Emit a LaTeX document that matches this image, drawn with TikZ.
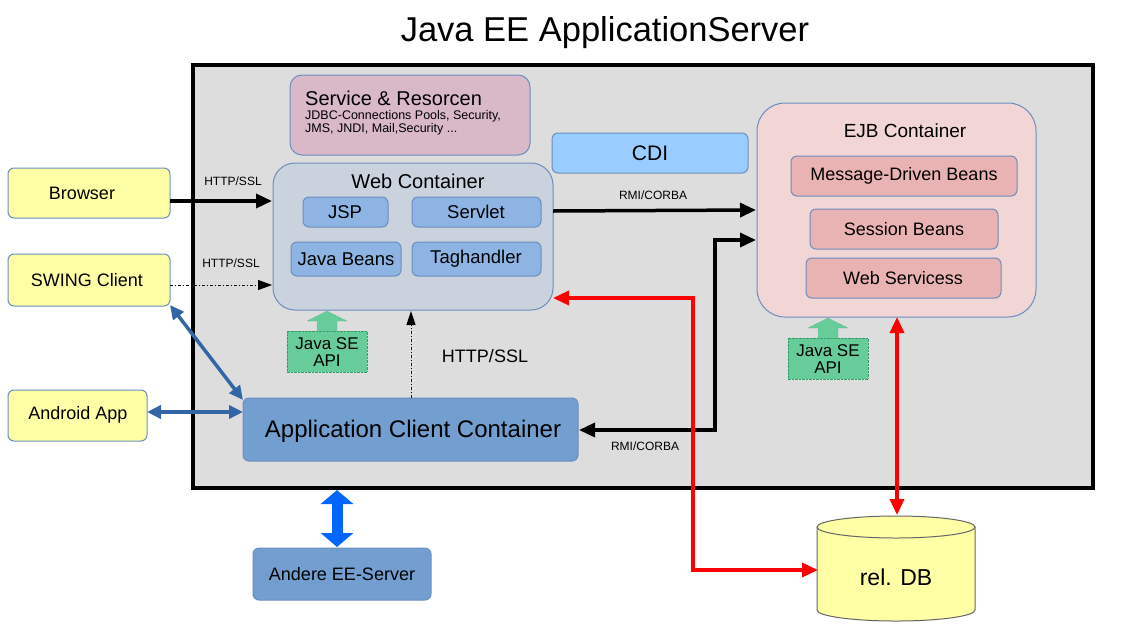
\documentclass[tikz,border=0pt]{standalone}
\usepackage{fontspec}
\setmainfont{Liberation Sans}
\usetikzlibrary{arrows.meta}
\definecolor{srv}{HTML}{DDDDDD}
\definecolor{pinkb}{HTML}{D9B8C8}
\definecolor{cdi}{HTML}{99CCFF}
\definecolor{webc}{HTML}{CAD3DD}
\definecolor{bord}{HTML}{6C8EBF}
\definecolor{inner}{HTML}{8EB4E3}
\definecolor{ejb}{HTML}{F2D5D5}
\definecolor{ejbin}{HTML}{EAB3B3}
\definecolor{yel}{HTML}{FFFFA6}
\definecolor{appc}{HTML}{729FCF}
\definecolor{grn}{HTML}{66CC99}
\definecolor{grnb}{HTML}{339966}
\definecolor{barrow}{HTML}{3465A4}
\definecolor{bigb}{HTML}{0066FF}
\begin{document}
\begin{tikzpicture}[x=1pt,y=-1pt,
  box/.style={draw=bord,rounded corners=6pt,line width=1pt},
  fs/.style={font=\fontsize{#1}{#1}\selectfont},
  blk/.style={line width=3.5pt,-{Triangle[length=16pt,width=14pt]}},
  lab/.style={fs=12},
  redA/.style={red,line width=3.5pt},
  blueA/.style={barrow,line width=3.5pt,{Triangle[length=14pt,width=13pt]}-{Triangle[length=14pt,width=13pt]}}]
\useasboundingbox (0,0) rectangle (1123,635);
\fill[white] (0,0) rectangle (1123,635);
\node[fs=34.5] (title) at (605,33) {Java EE ApplicationServer};
\draw[fill=srv,line width=3.5pt] (193,65) rectangle (1093,488);
% service
\draw[box,fill=pinkb,rounded corners=12pt] (290,75) rectangle (530,155);
\node[fs=20,anchor=west,inner sep=0pt] (svc) at (305,98) {Service \& Resorcen};
\node[fs=12.5,anchor=north west,align=left,inner sep=0pt] (svct) at (305,110) {JDBC-Connections Pools, Security,\\[1pt]JMS, JNDI, Mail,Security ...};
\draw[box,fill=cdi] (552,133) rectangle (748,173);
\node[fs=21] (cdi) at (650,153) {CDI};
% web
\draw[box,fill=webc,rounded corners=22pt] (273,163) rectangle (553,310);
\node[fs=20] (webt) at (418,181) {Web Container};
\draw[box,fill=inner] (303,197) rectangle (388,227); \node[fs=18.5] (jsp) at (345,212) {JSP};
\draw[box,fill=inner] (412,197) rectangle (541,227); \node[fs=18.5] (servlet) at (476,212) {Servlet};
\draw[box,fill=inner] (291,242) rectangle (401,276); \node[fs=18.5] (jb) at (346,259) {Java Beans};
\draw[box,fill=inner] (412,242) rectangle (541,276); \node[fs=18.5] (tag) at (476,259) {Taghandler};
% ejb
\draw[box,fill=ejb,rounded corners=28pt] (757,103) rectangle (1036,317);
\node[fs=19] (ejbt) at (905,131) {EJB Container};
\draw[box,fill=ejbin] (791,156) rectangle (1017,196); \node[fs=18] (mdb) at (904,176) {Message-Driven Beans};
\draw[box,fill=ejbin] (810,209) rectangle (998,249); \node[fs=18] (sb) at (904,229) {Session Beans};
\draw[box,fill=ejbin] (806,258) rectangle (1001,298); \node[fs=18] (ws) at (903,278) {Web Servicess};
% java se api
\foreach \cx/\ty/\nm in {327/311/jse1,828/318/jse2}{
 \draw[grnb,densely dotted,fill=grn] (\cx-40,\ty+20) rectangle (\cx+40,\ty+61);
 \draw[grnb,densely dotted,fill=grn] (\cx-10,\ty+20) -- (\cx-10,\ty+10) -- (\cx-20,\ty+10) -- (\cx,\ty) -- (\cx+20,\ty+10) -- (\cx+10,\ty+10) -- (\cx+10,\ty+20);
 \node[fs=17,align=center,inner sep=0pt] (\nm) at (\cx,\ty+41) {Java SE\\API};
}
% clients
\draw[box,fill=yel] (8,168) rectangle (170,218); \node[fs=18] (browser) at (82,193) {Browser};
\draw[box,fill=yel] (8,254) rectangle (170,306); \node[fs=18] (swing) at (87,280) {SWING Client};
\draw[box,fill=yel] (8,390) rectangle (147,441); \node[fs=18] (android) at (78,415) {Android App};
\draw[box,fill=appc] (243,398) rectangle (578,461); \node[fs=24] (app) at (413,431) {Application Client Container};
\draw[box,fill=appc] (253,548) rectangle (431,600); \node[fs=18] (andere) at (342,574) {Andere EE-Server};
% DB
\draw[black!60,fill=yel,line width=1pt] (817,527) -- (817,610) arc[start angle=180,end angle=0,x radius=79,y radius=11] -- (975,527) arc[start angle=0,end angle=-180,x radius=79,y radius=11] -- cycle;
\draw[black!60,line width=1pt] (817,527) arc[start angle=180,end angle=0,x radius=79,y radius=11];
\node[fs=23] (db) at (896,577) {rel. DB};
% arrows
\coordinate (b1) at (170,201); \coordinate (w1) at (272,201);
\draw[blk] (b1) -- (w1);
\node[lab] (l1) at (233,181) {HTTP/SSL};
\coordinate (s1) at (170,285); \coordinate (w2) at (272,285);
\draw[line width=1pt,dash dot,-{Triangle[length=14pt,width=10pt]}] (s1) -- (w2);
\node[lab] (l2) at (231,263) {HTTP/SSL};
\coordinate (w3) at (553,211); \coordinate (e1) at (756,210);
\draw[blk] (w3) -- (e1);
\node[lab] (l3) at (653,195) {RMI/CORBA};
\coordinate (a1) at (579,430); \coordinate (e2) at (756,240);
\draw[line width=3.5pt,{Triangle[length=16pt,width=14pt]}-{Triangle[length=16pt,width=14pt]},line join=miter] (a1) -- (715,430) -- (715,240) -- (e2);
\node[lab] (l4) at (645,446) {RMI/CORBA};
\coordinate (a2) at (411,398); \coordinate (w4) at (411,311);
\draw[line width=1pt,dash dot,-{Triangle[length=14pt,width=9pt]}] (a2) -- (w4);
\node[fs=18] (l5) at (485,356) {HTTP/SSL};
\coordinate (w5) at (553,298); \coordinate (d1) at (818,570);
\draw[redA,{Triangle[length=16pt,width=14pt]}-{Triangle[length=16pt,width=14pt]}] (w5) -- (693,298) -- (693,570) -- (d1);
\coordinate (e3) at (897,317); \coordinate (d2) at (897,515);
\draw[redA,{Triangle[length=16pt,width=14pt]}-{Triangle[length=16pt,width=14pt]}] (e3) -- (d2);
\coordinate (s2) at (170,305); \coordinate (a3) at (243,400);
\draw[blueA] (s2) -- (a3);
\coordinate (an1) at (147,412); \coordinate (a4) at (243,412);
\draw[blueA] (an1) -- (a4);
\coordinate (v1) at (337,490); \coordinate (v2) at (337,547);
\draw[bigb,line width=11pt,{Triangle[length=14pt,width=32pt]}-{Triangle[length=14pt,width=32pt]}] (v1) -- (v2);
\end{tikzpicture}
\end{document}
